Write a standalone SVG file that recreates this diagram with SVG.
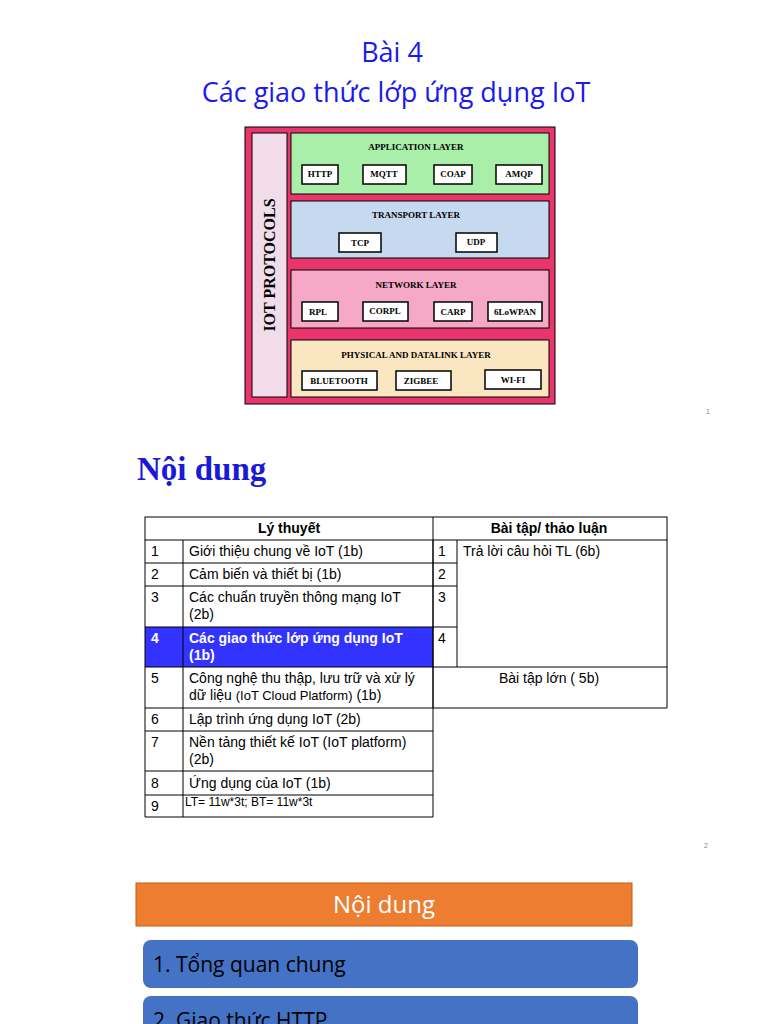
<svg xmlns="http://www.w3.org/2000/svg" width="768" height="1024" viewBox="0 0 768 1024">
<style>
.t{font-family:"Liberation Serif",serif;font-weight:bold;font-size:9px;text-anchor:middle}
.b{fill:#fff;stroke:#000;stroke-width:1.5}
.tb{font-family:"Liberation Sans",Arial,sans-serif;font-size:14px}
.g{stroke:#000;stroke-width:1;fill:none}
.c{font-family:"Open Sans","Noto Sans",sans-serif}
</style>
<rect width="768" height="1024" fill="#fff"/>
<g id="title" class="c" fill="#1a1aee" font-size="27" text-anchor="middle">
<text x="392" y="62">Bài 4</text>
<text x="396" y="102">Các giao thức lớp ứng dụng IoT</text>
</g>
<g id="stack">
<rect x="245" y="127" width="310" height="277" fill="#e8356b" stroke="#000"/>
<rect x="252" y="133" width="35" height="264" fill="#f1dcea" stroke="#000"/>
<text transform="translate(275,265) rotate(-90)" class="t" style="font-size:16px">IOT PROTOCOLS</text>
<rect x="291" y="133" width="258" height="61" fill="#a9efaa" stroke="#000"/>
<text x="416" y="150" class="t">APPLICATION LAYER</text>
<rect x="291" y="201" width="258" height="57" fill="#c5d9ef" stroke="#000"/>
<text x="416" y="218" class="t">TRANSPORT LAYER</text>
<rect x="291" y="270" width="258" height="58" fill="#f5a9c6" stroke="#000"/>
<text x="416" y="288" class="t">NETWORK LAYER</text>
<rect x="291" y="340" width="258" height="57" fill="#fae7c2" stroke="#000"/>
<text x="416" y="358" class="t">PHYSICAL AND DATALINK LAYER</text>
</g>
<g id="protos">
<rect class="b" x="302" y="165" width="36" height="19"/><text class="t" x="320" y="177">HTTP</text>
<rect class="b" x="363" y="165" width="43" height="19"/><text class="t" x="384" y="177">MQTT</text>
<rect class="b" x="434" y="165" width="38" height="19"/><text class="t" x="453" y="177">COAP</text>
<rect class="b" x="496" y="165" width="46" height="19"/><text class="t" x="519" y="177">AMQP</text>
<rect class="b" x="339" y="233" width="42" height="19"/><text class="t" x="360" y="246">TCP</text>
<rect class="b" x="456" y="233" width="41" height="19"/><text class="t" x="476" y="245">UDP</text>
<rect class="b" x="302" y="302" width="36" height="19"/><text class="t" x="318" y="315">RPL</text>
<rect class="b" x="363" y="302" width="45" height="19"/><text class="t" x="385" y="314">CORPL</text>
<rect class="b" x="434" y="302" width="38" height="19"/><text class="t" x="453" y="315">CARP</text>
<rect class="b" x="488" y="302" width="54" height="19"/><text class="t" x="515" y="315">6LoWPAN</text>
<rect class="b" x="302" y="371" width="75" height="19"/><text class="t" x="339" y="384">BLUETOOTH</text>
<rect class="b" x="396" y="371" width="55" height="19"/><text class="t" x="421" y="384">ZIGBEE</text>
<rect class="b" x="485" y="370" width="56" height="19"/><text class="t" x="513" y="383">WI-FI</text>
</g>
<text x="706" y="414" font-family="Liberation Sans,sans-serif" font-size="7" fill="#888">1</text>
<text x="137" y="480" font-family="Liberation Serif,serif" font-weight="bold" font-size="33" fill="#1a1ad6">Nội dung</text>
<g id="table">
<rect x="145" y="627" width="288" height="40" fill="#3333ff"/>
<g class="g">
<rect x="145" y="517" width="522" height="23"/>
<line x1="433" y1="517" x2="433" y2="708"/>
<path d="M145 540V817H433V540M183 540V817"/>
<path d="M145 563H457M145 586H457M145 627H457M145 667H667V708H433M145 708H433M145 731H433M145 771H433M145 795H433"/>
<path d="M457 540V667M667 540V667"/>
</g>
<g class="tb" font-weight="bold" text-anchor="middle"><text x="289" y="533">Lý thuyết</text><text x="549" y="533">Bài tập/ thảo luận</text></g>
<g class="tb">
<text x="151" y="556">1</text><text x="189" y="556">Giới thiệu chung về IoT (1b)</text>
<text x="151" y="579">2</text><text x="189" y="579">Cảm biến và thiết bị (1b)</text>
<text x="151" y="602">3</text><text x="189" y="602">Các chuẩn truyền thông mạng IoT</text><text x="189" y="619">(2b)</text>
<text x="151" y="643" fill="#fff" font-weight="bold">4</text><text x="189" y="643" fill="#fff" font-weight="bold">Các giao thức lớp ứng dụng IoT</text><text x="189" y="660" fill="#fff" font-weight="bold">(1b)</text>
<text x="151" y="683">5</text><text x="189" y="683">Công nghệ thu thập, lưu trữ và xử lý</text><text x="189" y="700">dữ liệu <tspan font-size="13">(IoT Cloud Platform)</tspan> (1b)</text>
<text x="151" y="724">6</text><text x="189" y="724">Lập trình ứng dụng IoT (2b)</text>
<text x="151" y="747">7</text><text x="189" y="747">Nền tảng thiết kế IoT (IoT platform)</text><text x="189" y="764">(2b)</text>
<text x="151" y="788">8</text><text x="189" y="788">Ứng dụng của IoT (1b)</text>
<text x="151" y="811">9</text><text x="185" y="806" font-size="12">LT= 11w*3t; BT= 11w*3t</text>
<text x="438" y="556">1</text><text x="463" y="556">Trả lời câu hỏi TL (6b)</text>
<text x="438" y="579">2</text><text x="438" y="602">3</text><text x="438" y="643">4</text>
<text x="549" y="683" text-anchor="middle">Bài tập lớn ( 5b)</text>
</g>
</g>
<text x="704" y="848" font-family="Liberation Sans,sans-serif" font-size="7" fill="#888">2</text>
<g id="header"><rect x="136" y="883" width="496" height="43" fill="#ed7d31" stroke="#c55a11"/>
<text x="384" y="913" class="c" font-size="24" fill="#fff" text-anchor="middle">Nội dung</text></g>
<g id="item1"><rect x="143" y="940" width="495" height="48" rx="8" fill="#4472c4"/>
<text x="153" y="972" class="c" font-size="21" fill="#000">1. Tổng quan chung</text></g>
<g id="item2"><rect x="143" y="996" width="495" height="48" rx="8" fill="#4472c4"/>
<text x="153" y="1028" class="c" font-size="21" fill="#000">2. Giao thức HTTP</text></g>
</svg>
